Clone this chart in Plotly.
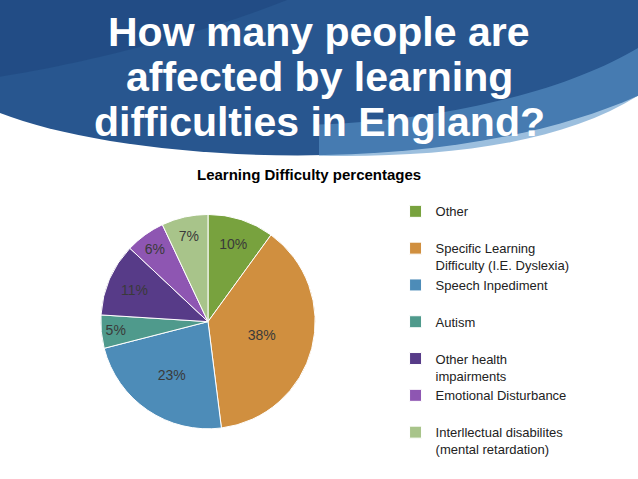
import plotly.graph_objects as go

labels = ["Other<br> ", "Specific Learning<br>Difficulty (I.E. Dyslexia)", "Speech Inpediment<br> ", "Autism<br> ",
          "Other health<br>impairments", "Emotional Disturbance<br> ", "Interllectual disabilites<br>(mental retardation)"]
values = [10, 38, 23, 5, 11, 6, 7]
colors = ["#78a23e", "#d08f3f", "#4d8cb8", "#4f9a8c", "#573b88", "#8e56b2", "#a8c48a"]
title_lines = ["How many people are", "affected by learning", "difficulties in England?"]

W, H = 638, 479
fig = go.Figure()
fig.add_trace(go.Pie(
    labels=labels, values=values, sort=False, direction="clockwise", rotation=0,
    marker=dict(colors=colors, line=dict(color="white", width=1)),
    textinfo="percent", textposition="inside", insidetextorientation="horizontal",
    textfont=dict(color="#3a3a3a", size=14, family="Liberation Sans"),
    domain=dict(x=[0.158, 0.494], y=[0.103, 0.554]),
))

fig.add_shape(type="path", xref="paper", yref="paper",
              path="M 0 1 L 1 1 L 1 0.80 C 0.7 0.62, 0.2 0.66, 0 0.764 Z",
              fillcolor="#28568f", line=dict(width=0), layer="below")
fig.add_shape(type="path", xref="paper", yref="paper",
              path="M 0 1 L 0.45 1 C 0.3 0.92, 0.1 0.86, 0 0.84 Z",
              fillcolor="#1f4880", opacity=0.7, line=dict(width=0), layer="below")
fig.add_shape(type="path", xref="paper", yref="paper",
              path="M 0.5 0.74 C 0.72 0.75, 0.9 0.82, 1 0.90 L 1 0.80 C 0.88 0.70, 0.7 0.67, 0.5 0.675 Z",
              fillcolor="#5a94c8", opacity=0.6, line=dict(width=0), layer="below")
for i, line in enumerate(title_lines):
    fig.add_annotation(text=line, x=0.5, y=1 - (32 + 45 * i) / H, xref="paper", yref="paper",
                       xanchor="center", yanchor="middle", showarrow=False,
                       font=dict(family="Liberation Sans", size=41, color="white", weight="bold"))
fig.add_annotation(text="<b>Learning Difficulty percentages</b>", x=0.485, y=1 - 174 / H,
                   xref="paper", yref="paper", xanchor="center", yanchor="middle", showarrow=False,
                   font=dict(family="Liberation Sans", size=15, color="black"))

fig.update_layout(
    width=W, height=H, margin=dict(l=0, r=0, t=0, b=0),
    paper_bgcolor="white", plot_bgcolor="white",
    font=dict(family="Liberation Sans", size=14, color="#222222"),
    legend=dict(x=0.62, y=0.59, xanchor="left", yanchor="top", tracegroupgap=0, valign="top",
                font=dict(size=13), itemwidth=30),
)
fig.write_html("out.html", config={"displayModeBar": False},
               post_script="document.body.style.margin='0';document.body.style.overflow='hidden';")
